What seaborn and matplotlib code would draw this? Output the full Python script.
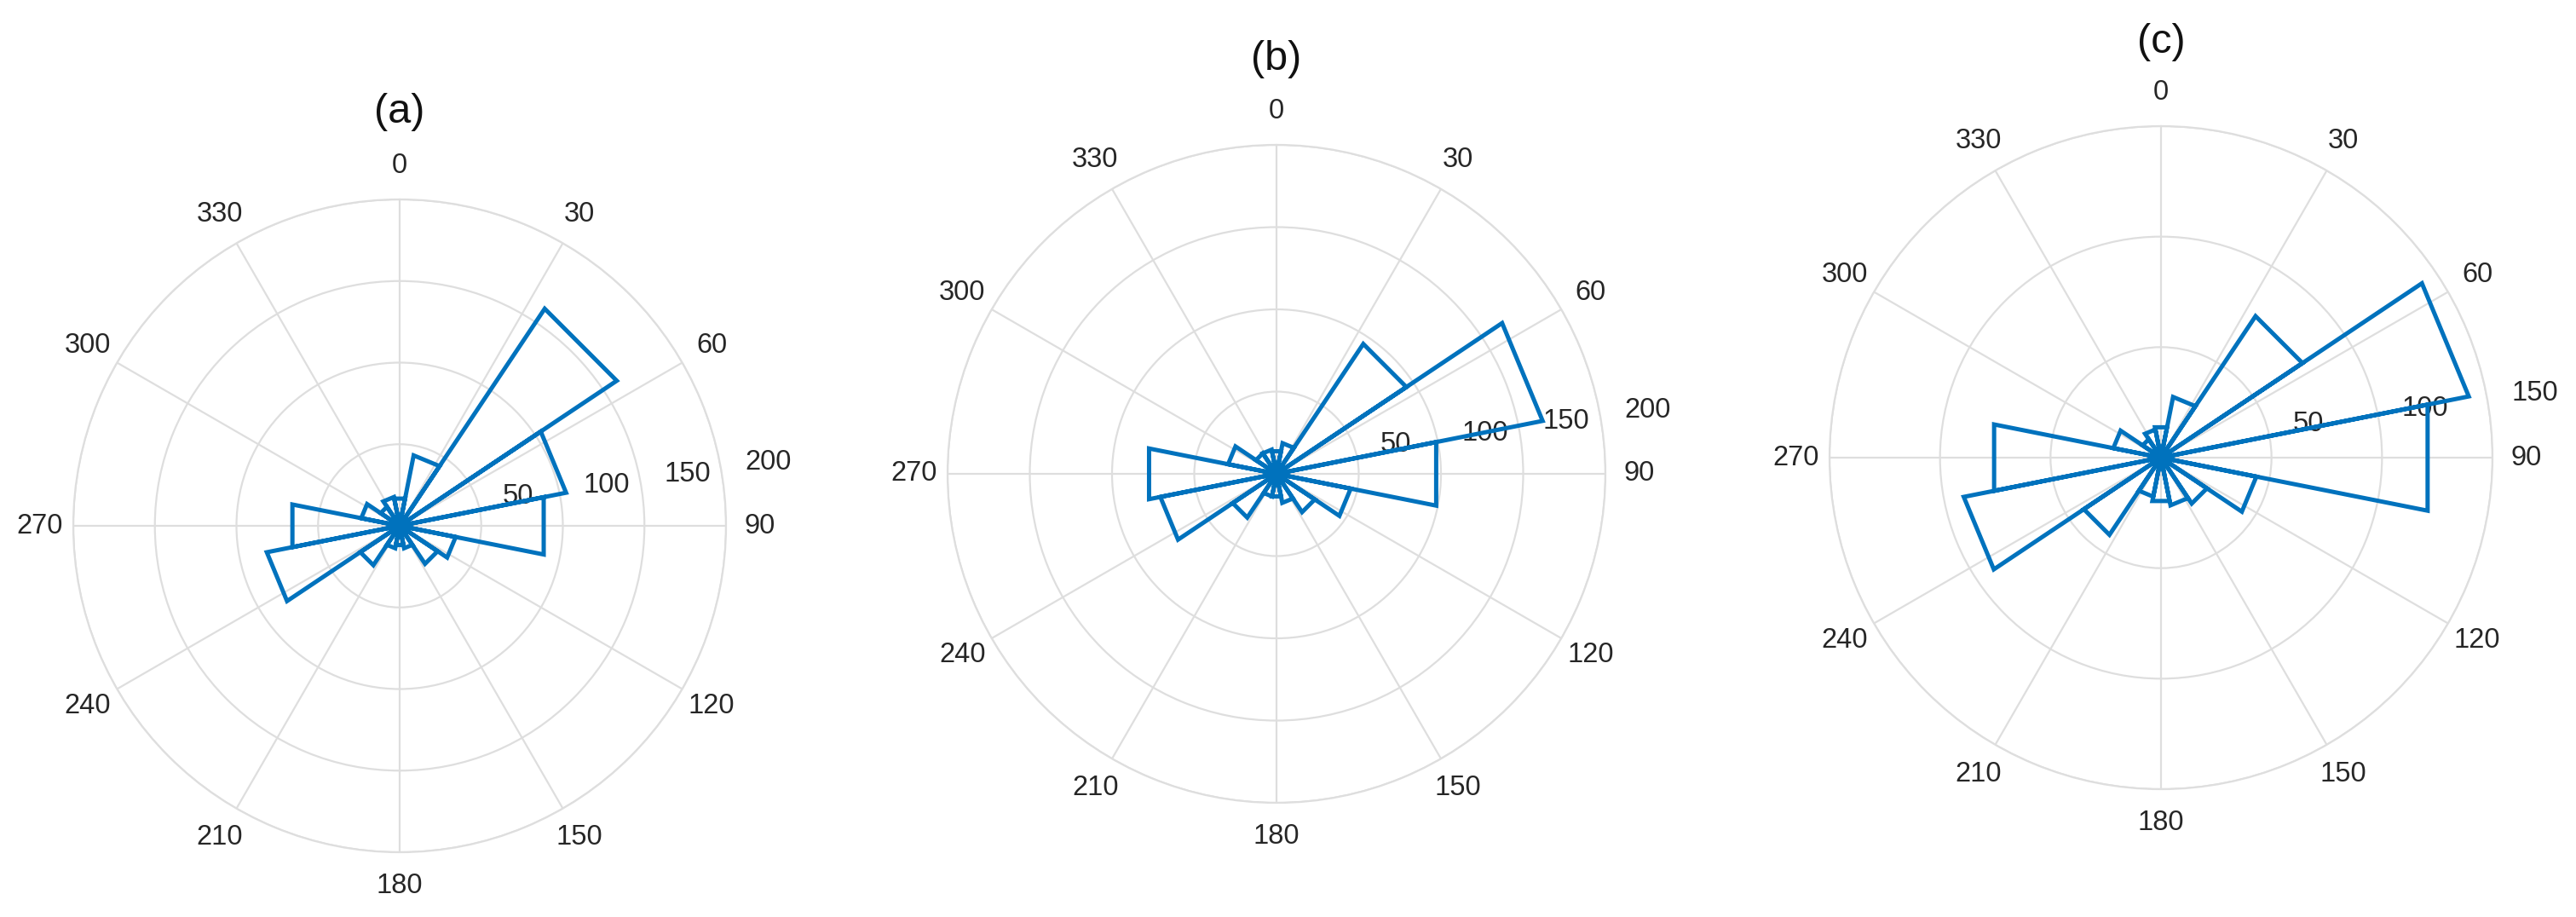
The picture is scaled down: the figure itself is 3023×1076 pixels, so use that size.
import numpy as np
import pandas as pd
import seaborn as sns
import matplotlib.pyplot as plt

# 16 direction bins of 22.5 deg, centred on 0, 22.5, 45, ... (clockwise from north)
bin_width = 22.5
bin_centers = np.arange(0, 360, bin_width)

counts_a = [17, 44, 160, 104, 90, 35, 28, 14, 12, 14, 29, 83, 67, 24, 14, 18]
counts_b = [14, 19, 95, 165, 99, 46, 28, 18, 14, 14, 32, 72, 79, 30, 15, 15]
counts_c = [14, 28, 77, 142, 123, 44, 25, 22, 20, 18, 42, 91, 77, 22, 10, 13]

r_ticks_ab = [50, 100, 150, 200]
r_ticks_c = [50, 100, 150]
theta_ticks = list(range(0, 360, 30))
titles = ["(a)", "(b)", "(c)"]

blue = "#0072BD"
grid_grey = "#dedede"
text_grey = "#262626"

sns.set_style("white")
plt.rcParams["font.family"] = ["Liberation Sans", "DejaVu Sans"]


def rose_outline(counts):
    # each bin drawn as centre -> left edge -> right edge -> centre
    th, rr = [], []
    for c, n in zip(bin_centers, counts):
        lo = np.deg2rad(c - bin_width / 2)
        hi = np.deg2rad(c + bin_width / 2)
        th += [lo, lo, hi, hi]
        rr += [0, n, n, 0]
    return pd.DataFrame({"theta": th, "r": rr})


W, H = 3023, 1076
fig = plt.figure(figsize=(W / 100, H / 100), dpi=100)

# circle centre x, centre y, radius, title gap above circle (pixels)
layout = [(469, 617, 383, 103), (1498, 556, 386, 101), (2536, 537, 389, 99)]
panels = [(counts_a, r_ticks_ab), (counts_b, r_ticks_ab), (counts_c, r_ticks_c)]

for (counts, rticks), title, (cx, cy, rad, gap) in zip(panels, titles, layout):
    ax = fig.add_axes([(cx - rad) / W, (H - cy - rad) / H, 2 * rad / W, 2 * rad / H],
                      projection="polar")
    ax.set_theta_zero_location("N")
    ax.set_theta_direction(-1)

    df = rose_outline(counts)
    sns.lineplot(data=df, x="theta", y="r", sort=False, estimator=None, ax=ax,
                 color=blue, linewidth=3.6, solid_joinstyle="miter")
    ax.set_xlabel("")
    ax.set_ylabel("")

    ax.set_ylim(0, rticks[-1])
    ax.set_yticks(rticks)
    ax.set_yticklabels([])
    ax.set_xticks(np.deg2rad(theta_ticks))
    ax.set_xticklabels([str(t) for t in theta_ticks], fontsize=23.5, color=text_grey)
    ax.tick_params(axis="x", pad=21.5, length=0)
    ax.tick_params(axis="y", length=0)
    ax.grid(True, color=grid_grey, linewidth=1.6)
    ax.spines["polar"].set_color(grid_grey)
    ax.spines["polar"].set_linewidth(1.6)

    for r in rticks:
        ax.annotate(str(r), xy=(np.deg2rad(82), r), xytext=(26, 21),
                    textcoords="offset pixels", ha="left", va="center",
                    fontsize=23.5, color=text_grey, zorder=1.5, annotation_clip=False)

    ax.set_title(title, y=1 + gap / (2 * rad), pad=0, va="center",
                 fontsize=35, color="#111111")

fig.savefig("out.png", dpi=100)
